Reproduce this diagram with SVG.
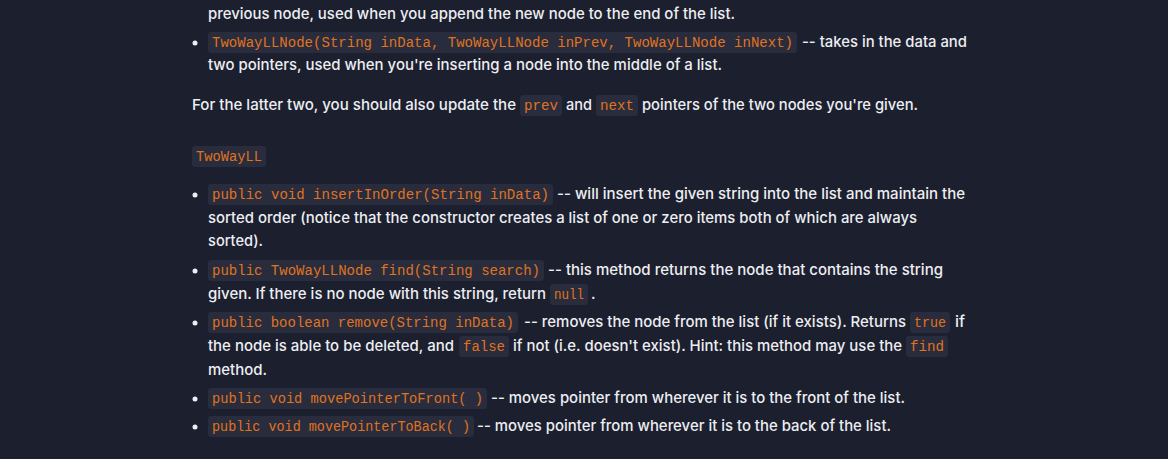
<svg xmlns="http://www.w3.org/2000/svg" width="1168" height="459" viewBox="0 0 1168 459">
<style>
.t{font-family:Inter,"Open Sans","Liberation Sans",sans-serif;font-size:15px;font-weight:500;fill:#eceef2}
.c{font-family:"Liberation Mono","DejaVu Sans Mono",monospace;font-size:14px;fill:#e0731f}
.b{fill:#282c3d}
.d{fill:#eceef2}
</style>
<rect width="1168" height="459" fill="#1c1f2e"/>
<g>
<text class="t" x="208" y="19" textLength="527" lengthAdjust="spacingAndGlyphs">previous node, used when you append the new node to the end of the list.</text>

<circle class="d" cx="195" cy="43" r="2.5"/>
<rect class="b" x="208" y="32" width="589" height="21" rx="3"/>
<text class="c" x="212" y="47" textLength="581" lengthAdjust="spacingAndGlyphs">TwoWayLLNode(String inData, TwoWayLLNode inPrev, TwoWayLLNode inNext)</text>
<text class="t" x="802" y="47" textLength="165" lengthAdjust="spacingAndGlyphs">-- takes in the data and</text>
<text class="t" x="208" y="70" textLength="514" lengthAdjust="spacingAndGlyphs">two pointers, used when you're inserting a node into the middle of a list.</text>

<text class="t" x="192" y="110" textLength="324" lengthAdjust="spacingAndGlyphs">For the latter two, you should also update the</text>
<rect class="b" x="520" y="95" width="42" height="21" rx="3"/>
<text class="c" x="524" y="110" textLength="34" lengthAdjust="spacingAndGlyphs">prev</text>
<text class="t" x="566" y="110" textLength="26" lengthAdjust="spacingAndGlyphs">and</text>
<rect class="b" x="596" y="95" width="42" height="21" rx="3"/>
<text class="c" x="600" y="110" textLength="34" lengthAdjust="spacingAndGlyphs">next</text>
<text class="t" x="642" y="110" textLength="276" lengthAdjust="spacingAndGlyphs">pointers of the two nodes you're given.</text>

<rect class="b" x="192" y="146" width="74" height="21" rx="3"/>
<text class="c" x="196" y="161" textLength="66" lengthAdjust="spacingAndGlyphs">TwoWayLL</text>

<circle class="d" cx="195" cy="195" r="2.5"/>
<rect class="b" x="208" y="184" width="345" height="21" rx="3"/>
<text class="c" x="212" y="199" textLength="337" lengthAdjust="spacingAndGlyphs">public void insertInOrder(String inData)</text>
<text class="t" x="557" y="199" textLength="408" lengthAdjust="spacingAndGlyphs">-- will insert the given string into the list and maintain the</text>
<text class="t" x="208" y="223" textLength="709" lengthAdjust="spacingAndGlyphs">sorted order (notice that the constructor creates a list of one or zero items both of which are always</text>
<text class="t" x="208" y="246" textLength="55" lengthAdjust="spacingAndGlyphs">sorted).</text>

<circle class="d" cx="195" cy="271" r="2.5"/>
<rect class="b" x="208" y="260" width="336" height="21" rx="3"/>
<text class="c" x="212" y="275" textLength="328" lengthAdjust="spacingAndGlyphs">public TwoWayLLNode find(String search)</text>
<text class="t" x="548" y="275" textLength="395" lengthAdjust="spacingAndGlyphs">-- this method returns the node that contains the string</text>
<text class="t" x="208" y="299" textLength="338" lengthAdjust="spacingAndGlyphs">given. If there is no node with this string, return</text>
<rect class="b" x="550" y="284" width="38" height="21" rx="3"/>
<text class="c" x="554" y="299" textLength="30" lengthAdjust="spacingAndGlyphs">null</text>
<text class="t" x="591" y="299">.</text>

<circle class="d" cx="195" cy="323" r="2.5"/>
<rect class="b" x="208" y="312" width="310" height="21" rx="3"/>
<text class="c" x="212" y="327" textLength="302" lengthAdjust="spacingAndGlyphs">public boolean remove(String inData)</text>
<text class="t" x="524" y="327" textLength="382" lengthAdjust="spacingAndGlyphs">-- removes the node from the list (if it exists). Returns</text>
<rect class="b" x="910" y="312" width="40" height="21" rx="3"/>
<text class="c" x="914" y="327" textLength="32" lengthAdjust="spacingAndGlyphs">true</text>
<text class="t" x="955" y="327" textLength="10" lengthAdjust="spacingAndGlyphs">if</text>
<text class="t" x="208" y="351" textLength="246" lengthAdjust="spacingAndGlyphs">the node is able to be deleted, and</text>
<rect class="b" x="459" y="336" width="50" height="21" rx="3"/>
<text class="c" x="463" y="351" textLength="42" lengthAdjust="spacingAndGlyphs">false</text>
<text class="t" x="513" y="351" textLength="389" lengthAdjust="spacingAndGlyphs">if not (i.e. doesn't exist). Hint: this method may use the</text>
<rect class="b" x="906" y="336" width="42" height="21" rx="3"/>
<text class="c" x="910" y="351" textLength="34" lengthAdjust="spacingAndGlyphs">find</text>
<text class="t" x="208" y="375" textLength="59" lengthAdjust="spacingAndGlyphs">method.</text>

<circle class="d" cx="195" cy="399" r="2.5"/>
<rect class="b" x="208" y="388" width="279" height="21" rx="3"/>
<text class="c" x="212" y="403" textLength="271" lengthAdjust="spacingAndGlyphs">public void movePointerToFront( )</text>
<text class="t" x="491" y="403" textLength="414" lengthAdjust="spacingAndGlyphs">-- moves pointer from wherever it is to the front of the list.</text>

<circle class="d" cx="195" cy="427" r="2.5"/>
<rect class="b" x="208" y="416" width="266" height="21" rx="3"/>
<text class="c" x="212" y="431" textLength="258" lengthAdjust="spacingAndGlyphs">public void movePointerToBack( )</text>
<text class="t" x="477" y="431" textLength="414" lengthAdjust="spacingAndGlyphs">-- moves pointer from wherever it is to the back of the list.</text>
</g>
</svg>
